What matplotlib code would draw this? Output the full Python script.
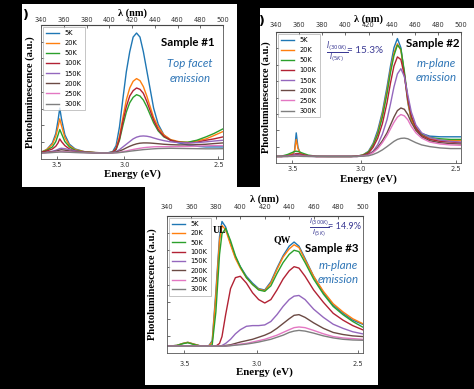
import matplotlib
matplotlib.use("Agg")
import matplotlib.pyplot as plt
from matplotlib.patches import Rectangle

W, H = 474, 389

temps = ["5K", "20K", "50K", "100K", "150K", "200K", "250K", "300K"]
colors = ["#1f77b4", "#ff7f0e", "#2ca02c", "#b22234",
          "#9467bd", "#6b4a44", "#e377c2", "#7f7f7f"]

energy_ticks = [3.5, 3.0, 2.5]
wl_ticks = [340, 360, 380, 400, 420, 440, 460, 480, 500]

# ---- Sample #1 (top facet emission) ----
s1_wl = [340, 345, 350, 353, 355, 356.5, 358, 361, 365, 370, 378, 388, 398, 403, 406, 409, 412,
         415, 418, 421, 424, 427, 430, 433, 436, 439, 443, 448, 454, 461, 469, 477, 485, 492, 500]
s1_5K = [.05, .07, .12, .19, .29, .38, .30, .18, .11, .075, .055, .048, .045, .055, .10, .24, .45,
         .65, .80, .91, .94, .91, .80, .66, .52, .38, .26, .18, .14, .12, .105, .095, .09, .09, .09]
s1_20K = [.05, .07, .11, .17, .24, .30, .25, .16, .10, .07, .055, .048, .045, .05, .08, .17, .31,
          .44, .53, .58, .60, .585, .54, .47, .39, .31, .24, .18, .145, .13, .125, .135, .15, .175, .205]
s1_50K = [.05, .065, .09, .13, .18, .22, .19, .13, .09, .065, .052, .047, .045, .05, .07, .14, .25,
          .35, .42, .46, .48, .47, .44, .39, .33, .27, .21, .165, .14, .125, .125, .14, .165, .19, .225]
s1_100K = [.05, .06, .075, .095, .12, .15, .13, .10, .075, .06, .05, .047, .045, .05, .075, .15, .28,
           .39, .47, .51, .53, .52, .49, .43, .36, .29, .22, .17, .14, .125, .12, .125, .14, .15, .165]
s1_150K = [.045, .05, .058, .065, .072, .078, .08, .077, .07, .06, .05, .046, .045, .048, .055, .07, .09,
           .11, .13, .15, .163, .17, .172, .17, .165, .157, .147, .137, .128, .122, .12, .122, .128, .134, .14]
s1_200K = [.045, .05, .054, .058, .063, .067, .069, .066, .06, .055, .05, .046, .045, .047, .052, .06, .07,
           .083, .095, .105, .113, .118, .12, .12, .119, .117, .114, .11, .107, .105, .105, .107, .11, .115, .12]
s1_250K = [.045, .047, .05, .052, .054, .055, .056, .055, .053, .05, .048, .046, .045, .045, .047, .05, .055,
           .06, .066, .071, .076, .08, .084, .087, .089, .091, .092, .092, .092, .093, .094, .096, .098, .10, .10]
s1_300K = [.045, .046, .048, .05, .051, .052, .052, .051, .05, .048, .046, .045, .045, .045, .046, .048, .051,
           .054, .058, .061, .064, .067, .07, .072, .074, .076, .078, .079, .08, .079, .078, .077, .076, .076, .077]

# ---- Sample #2 (m-plane emission) ----
s2_wl = [340, 345, 350, 354, 356, 357.5, 359, 361, 364, 368, 375, 385, 395, 405, 410, 415, 420,
         424, 428, 432, 436, 439, 442, 445, 448, 451, 454, 457, 461, 466, 473, 482, 491, 500]
s2_5K = [.05, .05, .055, .065, .09, .23, .12, .07, .058, .052, .05, .05, .05, .05, .053, .06, .09,
         .15, .25, .39, .58, .74, .88, .95, .88, .68, .46, .33, .26, .225, .205, .20, .20, .20]
s2_20K = [.05, .05, .058, .07, .09, .18, .11, .075, .062, .054, .05, .05, .05, .05, .053, .06, .085,
          .14, .23, .37, .55, .71, .84, .91, .86, .68, .47, .33, .25, .21, .185, .175, .17, .17]
s2_50K = [.05, .053, .065, .08, .088, .09, .088, .082, .072, .06, .052, .05, .05, .05, .053, .06, .083,
          .135, .22, .35, .53, .69, .82, .90, .87, .70, .49, .35, .27, .22, .195, .185, .18, .18]
s2_100K = [.05, .05, .055, .063, .068, .072, .072, .068, .062, .055, .05, .05, .05, .05, .052, .058, .075,
           .12, .19, .30, .46, .61, .74, .81, .79, .67, .49, .36, .27, .21, .18, .165, .16, .155]
s2_150K = [.05, .05, .052, .058, .062, .065, .064, .06, .056, .052, .05, .05, .05, .05, .05, .055, .065,
           .09, .14, .22, .33, .45, .58, .68, .72, .66, .52, .39, .29, .23, .195, .175, .165, .16]
s2_200K = [.05, .05, .05, .054, .057, .06, .06, .057, .054, .051, .05, .05, .05, .05, .05, .054, .065,
           .085, .12, .17, .23, .29, .35, .40, .42, .41, .37, .31, .25, .20, .17, .155, .148, .145]
s2_250K = [.05, .05, .05, .052, .054, .055, .055, .054, .052, .05, .05, .05, .05, .05, .05, .053, .06,
           .08, .11, .155, .21, .26, .31, .35, .37, .36, .33, .28, .23, .19, .16, .145, .138, .135]
s2_300K = [.05, .05, .05, .05, .051, .052, .052, .051, .05, .05, .05, .05, .05, .05, .05, .052, .055,
           .065, .08, .10, .125, .145, .165, .18, .188, .19, .185, .172, .155, .138, .125, .115, .11, .11]

# ---- Sample #3 (m-plane emission, UL + QW) ----
s3_wl = [340, 348, 353, 357, 362, 368, 374, 377, 380, 383, 385, 388, 392, 396, 400, 405,
         410, 415, 420, 425, 430, 435, 440, 444, 448, 453, 460, 468, 476, 484, 492, 500]
s3_5K = [.05, .055, .07, .078, .065, .05, .05, .09, .45, .85, .96, .92, .80, .70, .63, .56,
         .51, .47, .46, .52, .62, .71, .78, .81, .78, .69, .56, .44, .35, .29, .24, .21]
s3_20K = [.05, .055, .07, .078, .065, .05, .05, .08, .42, .82, .93, .90, .79, .69, .62, .55,
          .50, .465, .455, .51, .61, .70, .76, .79, .77, .68, .56, .45, .36, .30, .25, .215]
s3_50K = [.05, .055, .068, .075, .062, .05, .05, .06, .30, .72, .87, .91, .82, .71, .63, .55,
          .50, .46, .45, .49, .58, .66, .72, .75, .74, .66, .54, .43, .34, .28, .23, .19]
s3_100K = [.05, .05, .05, .05, .05, .05, .05, .05, .05, .07, .12, .28, .47, .55, .56, .51,
           .44, .39, .365, .39, .46, .54, .60, .63, .62, .56, .46, .37, .29, .24, .20, .17]
s3_150K = [.05, .05, .05, .05, .05, .05, .05, .05, .05, .05, .055, .07, .10, .14, .17, .195,
           .20, .20, .205, .23, .28, .34, .39, .415, .42, .39, .32, .26, .21, .18, .155, .14]
s3_200K = [.05, .05, .05, .05, .05, .05, .05, .05, .05, .05, .05, .055, .06, .07, .08, .09,
           .10, .115, .13, .15, .18, .215, .25, .275, .28, .26, .22, .18, .15, .135, .125, .12]
s3_250K = [.05, .05, .05, .05, .05, .05, .05, .05, .05, .05, .05, .05, .055, .06, .065, .07,
           .08, .09, .10, .115, .13, .15, .17, .185, .19, .185, .165, .14, .12, .11, .105, .10]
s3_300K = [.05, .05, .05, .05, .05, .05, .05, .05, .05, .05, .05, .05, .053, .057, .06, .065,
           .072, .08, .09, .10, .115, .13, .15, .16, .165, .16, .145, .125, .11, .10, .095, .093]


def fig_box(l, t, r, b):
    return [l / W, 1 - b / H, (r - l) / W, (b - t) / H]


fig = plt.figure(figsize=(W / 100, H / 100), dpi=100, facecolor="black")

# white panel backgrounds (pixel boxes: left, top, right, bottom)
for l, t, r, b in [(22, 4, 237, 187), (260, 8, 474, 192), (145, 187, 378, 385)]:
    x0, y0, w, h = fig_box(l, t, r, b)
    fig.patches.append(Rectangle((x0, y0), w, h, transform=fig.transFigure,
                                 facecolor="white", edgecolor="none", zorder=-5))

fig.text(23 / W, 1 - 16 / H, ")", fontsize=9, fontweight="bold", color="black",
         va="center", ha="left")
fig.text(259 / W, 1 - 22 / H, ")", fontsize=9, fontweight="bold", color="black",
         va="center", ha="left")

serif = "Liberation Serif"
sans = "Lato"
blue_txt = "#2e75b6"
ratio_col = "#3b3a94"


def draw_panel(box, wl, curves, bpad, tpad, blab, tlab, lspace):
    ax = fig.add_axes(fig_box(*box))
    for lab, c, y in zip(temps, colors, curves):
        ax.plot(wl, y, color=c, lw=1.0, label=lab)
    ax.set_xlim(340, 500)
    ax.set_ylim(0, 1)
    ax.set_xticks([1239.84 / e for e in energy_ticks])
    ax.set_xticklabels([f"{e:.1f}" for e in energy_ticks])
    ax.set_yticks([0.125, 0.25, 0.375, 0.5, 0.625, 0.75, 0.875])
    ax.set_yticklabels([])
    ax.tick_params(direction="in", length=2, width=0.5, labelsize=4.8,
                   pad=bpad, colors="#333333")
    ax.set_xlabel("Energy (eV)", family=serif, fontweight="bold", fontsize=7.8,
                  labelpad=blab)
    ax.set_ylabel("Photoluminescence (a.u.)", family=serif, fontweight="bold",
                  fontsize=7.6, labelpad=1.5)
    for s in ax.spines.values():
        s.set_color("#555555")
        s.set_linewidth(0.6)
    top = ax.secondary_xaxis("top")
    top.set_xticks(wl_ticks)
    top.tick_params(direction="in", length=2, width=0.5, labelsize=4.8,
                    pad=tpad, colors="#333333")
    top.set_xlabel("λ (nm)", family=serif, fontweight="bold", fontsize=7.4,
                   labelpad=tlab)
    leg = ax.legend(loc="upper left", fontsize=4.8, frameon=True, fancybox=False,
                    borderaxespad=0.25, labelspacing=lspace, handlelength=2.0,
                    handletextpad=0.8, borderpad=0.5)
    leg.get_frame().set_edgecolor("#999999")
    leg.get_frame().set_linewidth(0.5)
    return ax


def labels(ax, name, l1, l2, xs, ys):
    ax.text(xs[0], ys[0], name, family=sans, fontweight="bold", fontsize=8.3,
            ha="center", va="center", color="black")
    ax.text(xs[1], ys[1], l1, family=sans, style="italic", fontsize=8.3,
            ha="center", va="center", color=blue_txt)
    ax.text(xs[1], ys[2], l2, family=sans, style="italic", fontsize=8.3,
            ha="center", va="center", color=blue_txt)


ax1 = draw_panel((41, 25, 223, 159), s1_wl,
                 [s1_5K, s1_20K, s1_50K, s1_100K, s1_150K, s1_200K, s1_250K, s1_300K],
                 2.5, 1.5, 0.5, 0.6, 0.62)
labels(ax1, "Sample #1", "Top facet", "emission", (469, 471), (0.87, 0.71, 0.60))

ax2 = draw_panel((276, 32, 461, 163), s2_wl,
                 [s2_5K, s2_20K, s2_50K, s2_100K, s2_150K, s2_200K, s2_250K, s2_300K],
                 2.2, 2.6, 1.5, 0.6, 0.62)
labels(ax2, "Sample #2", "m-plane", "emission", (476, 479), (0.91, 0.76, 0.65))
ax2.text(392.8, 0.85, r"$\frac{I_{(300K)}}{I_{(5K)}}$", fontsize=7.8,
         ha="center", va="center", color=ratio_col)
ax2.text(401, 0.855, "= 15.3%", family=sans, fontsize=7.2,
         ha="left", va="center", color=ratio_col)

ax3 = draw_panel((167, 216, 362.5, 353), s3_wl,
                 [s3_5K, s3_20K, s3_50K, s3_100K, s3_150K, s3_200K, s3_250K, s3_300K],
                 5.5, 4.3, 0.5, 1.6, 0.5)
labels(ax3, "Sample #3", "m-plane", "emission", (475, 480), (0.765, 0.64, 0.54))
ax3.text(465.0, 0.915, r"$\frac{I_{(300K)}}{I_{(5K)}}$", fontsize=7.2,
         ha="center", va="center", color=ratio_col)
ax3.text(471.8, 0.92, "= 14.9%", family=sans, fontsize=6.6,
         ha="left", va="center", color=ratio_col)
ax3.text(383, 0.895, "UL", family=serif, fontweight="bold", fontsize=7,
         ha="center", va="center", color="black")
ax3.text(434, 0.83, "QW", family=serif, fontweight="bold", fontsize=7,
         ha="center", va="center", color="black")

fig.savefig("out.png", dpi=100, facecolor="black")
